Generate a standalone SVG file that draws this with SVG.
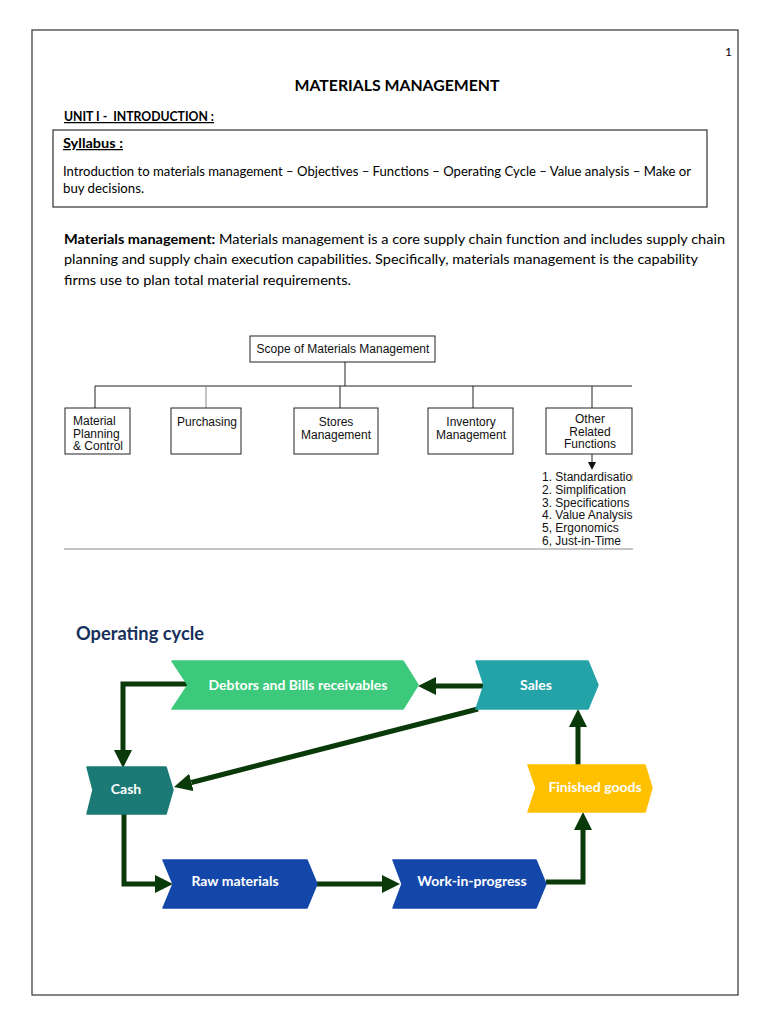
<svg xmlns="http://www.w3.org/2000/svg" width="768" height="1024" viewBox="0 0 768 1024">
<style>
.doc{font-family:Lato,"Open Sans","Liberation Sans",sans-serif;fill:#000}
.b{font-weight:bold}
.ar{font-family:"Liberation Sans",Arial,sans-serif;font-size:12px;fill:#111}
.box{fill:#fff;stroke:#222;stroke-width:1}
.tl{stroke:#222;stroke-width:1;fill:none}
.lbl{font-family:Lato,"Open Sans","Liberation Sans",sans-serif;font-weight:bold;font-size:14px;fill:#fff;text-anchor:middle}
.con{stroke:#0a3a0a;stroke-width:5;fill:none;stroke-linejoin:miter}
</style>
<defs>
<marker id="ah" markerUnits="userSpaceOnUse" markerWidth="18" markerHeight="18" viewBox="0 0 18 18" refX="0" refY="9" orient="auto">
<path d="M0,0 L18,9 L0,18 Z" fill="#0a3a0a"/>
</marker>
<marker id="sh" markerUnits="userSpaceOnUse" markerWidth="8" markerHeight="8" viewBox="0 0 8 8" refX="0" refY="4" orient="auto">
<path d="M0,0 L8,4 L0,8 Z" fill="#111"/>
</marker>
<clipPath id="clipList"><rect x="530" y="460" width="103" height="100"/></clipPath>
</defs>
<rect width="768" height="1024" fill="#fff"/>
<rect x="32" y="30" width="706" height="965" fill="none" stroke="#333" stroke-width="1.2"/>

<text class="doc" x="725" y="56" font-size="12">1</text>
<text class="doc b" x="397" y="91" font-size="14.5" text-anchor="middle" textLength="205" lengthAdjust="spacingAndGlyphs">MATERIALS MANAGEMENT</text>
<text class="doc b" x="64" y="121" font-size="12.5" textLength="150" lengthAdjust="spacingAndGlyphs" text-decoration="underline" xml:space="preserve" style="white-space:pre">UNIT I -  INTRODUCTION :</text>

<g id="syllabus">
<rect x="53" y="130" width="654" height="77" fill="none" stroke="#333" stroke-width="1.2"/>
<text class="doc b" x="63" y="148" font-size="12.5" textLength="60" lengthAdjust="spacingAndGlyphs" text-decoration="underline">Syllabus :</text>
<text class="doc" x="63" y="176" font-size="13" textLength="628" lengthAdjust="spacingAndGlyphs">Introduction to materials management – Objectives – Functions – Operating Cycle – Value analysis – Make or</text>
<text class="doc" x="63" y="193" font-size="13" textLength="81" lengthAdjust="spacingAndGlyphs">buy decisions.</text>
</g>

<g id="paragraph">
<text class="doc" x="64" y="244" font-size="14" textLength="661" lengthAdjust="spacingAndGlyphs"><tspan class="b">Materials management:</tspan> Materials management is a core supply chain function and includes supply chain</text>
<text class="doc" x="64" y="264" font-size="14" textLength="634" lengthAdjust="spacingAndGlyphs">planning and supply chain execution capabilities. Specifically, materials management is the capability</text>
<text class="doc" x="64" y="285" font-size="14" textLength="287" lengthAdjust="spacingAndGlyphs">firms use to plan total material requirements.</text>
</g>

<g id="tree-connectors">
<path class="tl" d="M345,362 V386 M95,386 H632 M95,386 V408 M340,386 V408 M473,386 V408 M592,386 V408"/>
<path d="M206,386 V408" stroke="#888" stroke-width="1"/>
<path class="tl" d="M592,454 V462" marker-end="url(#sh)"/>
</g>
<g id="scope">
<rect class="box" x="250" y="336" width="185" height="26"/>
<text class="ar" x="343" y="353" text-anchor="middle">Scope of Materials Management</text>
</g>
<g id="mpc">
<rect class="box" x="65" y="408" width="65" height="46"/>
<text class="ar" x="73" y="425">Material</text>
<text class="ar" x="73" y="438">Planning</text>
<text class="ar" x="73" y="450">&amp; Control</text>
</g>
<g id="purchasing">
<rect class="box" x="171" y="408" width="70" height="46"/>
<text class="ar" x="177" y="426">Purchasing</text>
</g>
<g id="stores">
<rect class="box" x="294" y="408" width="84" height="46"/>
<text class="ar" x="336" y="426" text-anchor="middle">Stores</text>
<text class="ar" x="336" y="439" text-anchor="middle">Management</text>
</g>
<g id="inventory">
<rect class="box" x="428" y="408" width="85" height="46"/>
<text class="ar" x="471" y="426" text-anchor="middle">Inventory</text>
<text class="ar" x="471" y="439" text-anchor="middle">Management</text>
</g>
<g id="other">
<rect class="box" x="546" y="408" width="86" height="46"/>
<text class="ar" x="590" y="423" text-anchor="middle">Other</text>
<text class="ar" x="590" y="436" text-anchor="middle">Related</text>
<text class="ar" x="590" y="448" text-anchor="middle">Functions</text>
</g>
<g id="other-list" clip-path="url(#clipList)">
<text class="ar" x="542" y="481">1. Standardisation</text>
<text class="ar" x="542" y="494">2. Simplification</text>
<text class="ar" x="542" y="507">3. Specifications</text>
<text class="ar" x="542" y="519">4. Value Analysis</text>
<text class="ar" x="542" y="532">5, Ergonomics</text>
<text class="ar" x="542" y="545">6, Just-in-Time</text>
</g>
<line x1="64" y1="549" x2="633" y2="549" stroke="#888" stroke-width="1"/>

<text x="76" y="640" font-family="Lato,'Open Sans','Liberation Sans',sans-serif" font-weight="bold" font-size="18" fill="#17305c" textLength="128" lengthAdjust="spacingAndGlyphs">Operating cycle</text>

<g id="connectors">
<path class="con" d="M486,686 H436" marker-end="url(#ah)"/>
<path class="con" d="M188,684 H123 V750" marker-end="url(#ah)"/>
<path class="con" d="M478,709 L191.4,782.5" marker-end="url(#ah)"/>
<path class="con" d="M124,814 V884 H155" marker-end="url(#ah)"/>
<path class="con" d="M317,884 H382" marker-end="url(#ah)"/>
<path class="con" d="M546,882 H583 V830" marker-end="url(#ah)"/>
<path class="con" d="M578,765 V727" marker-end="url(#ah)"/>
</g>

<g id="debtors">
<path d="M172,661 H403 L418,685 L403,709 H172 L188,685 Z" fill="#3cc97b" stroke="#3cc97b" stroke-width="1.5" stroke-linejoin="round"/>
<text class="lbl" x="298" y="690">Debtors and Bills receivables</text>
</g>
<g id="sales">
<path d="M476,661 H588 L598,685 L588,709 H476 L484,685 Z" fill="#23a3a7" stroke="#23a3a7" stroke-width="1.5" stroke-linejoin="round"/>
<text class="lbl" x="536" y="690">Sales</text>
</g>
<g id="cash">
<path d="M87,767 H166 L173,790 L166,814 H87 L93,790 Z" fill="#1b7a76" stroke="#1b7a76" stroke-width="1.5" stroke-linejoin="round"/>
<text class="lbl" x="126" y="794">Cash</text>
</g>
<g id="finished">
<path d="M528,765 H645 L652,788 L645,812 H528 L536,788 Z" fill="#ffc000" stroke="#ffc000" stroke-width="1.5" stroke-linejoin="round"/>
<text class="lbl" x="595" y="792">Finished goods</text>
</g>
<g id="raw">
<path d="M163,860 H307 L317,884 L307,908 H163 L173,884 Z" fill="#1447aa" stroke="#1447aa" stroke-width="1.5" stroke-linejoin="round"/>
<text class="lbl" x="235" y="886">Raw materials</text>
</g>
<g id="wip">
<path d="M393,860 H536 L546,884 L536,908 H393 L402,884 Z" fill="#1447aa" stroke="#1447aa" stroke-width="1.5" stroke-linejoin="round"/>
<text class="lbl" x="472" y="886">Work-in-progress</text>
</g>
</svg>
